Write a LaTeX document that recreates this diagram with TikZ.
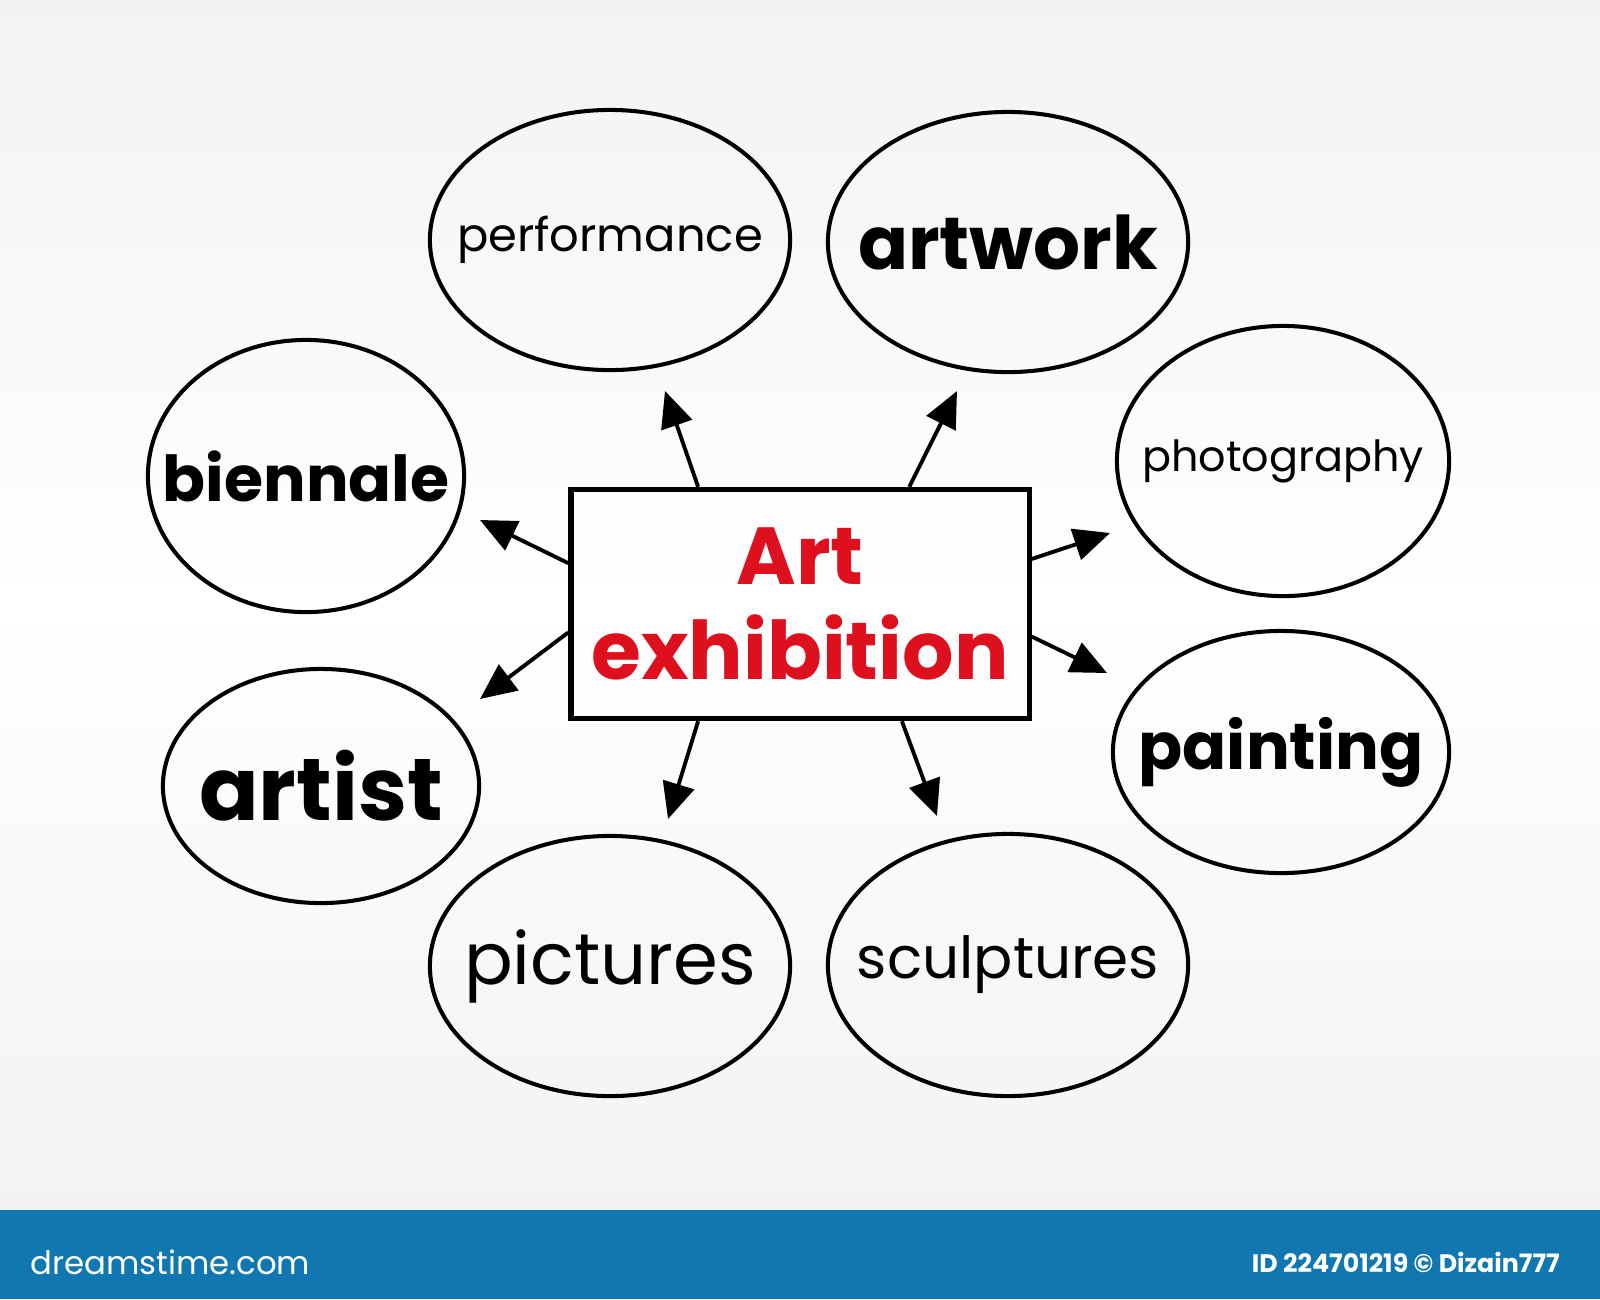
\documentclass[tikz,border=0pt]{standalone}
\usepackage{fontspec}
\setmainfont{Poppins}
\usetikzlibrary{arrows.meta,shapes.geometric}
\definecolor{artred}{RGB}{222,16,30}
\definecolor{barblue}{RGB}{17,119,176}
\tikzset{
  bubble/.style={draw, line width=1.15pt, ellipse, inner sep=0pt},
  topic/.style={font=\fontsize{#1}{#1}\selectfont},
  strong/.style={font=\fontsize{#1}{#1}\selectfont\bfseries},
  spoke/.style={line width=1.1pt, -{Triangle[length=3.6mm,width=3.2mm]}},
}
\begin{document}
\begin{tikzpicture}[x=0.01cm, y=-0.01cm]
  \useasboundingbox (0,0) rectangle (1600,1299);
  %%%%% BACKGROUND %%%%%
  \shade[top color=black!5, bottom color=black!5, middle color=white] (0,0) rectangle (1600,1210);
  \fill[barblue] (0,1210) rectangle (1600,1299);
  \node[text=white, anchor=west, topic=9.2] (site) at (18,1262) {dreamstime.com};
  \node[text=white, anchor=east, strong=7.2] (credit) at (1572,1262) {ID 224701219 © Dizain777};

  %%%%% CENTRE %%%%%
  \node[draw, line width=1.5pt, minimum width=4.58cm, minimum height=2.29cm, text=artred,
        align=center, font=\fontsize{23}{27}\selectfont\bfseries] (art) at (800,604) {Art\\exhibition};

  %%%%% TOPICS %%%%%
  \node[bubble, minimum width=3.6cm, minimum height=2.6cm,
        label={[topic=13.2]center:performance}] (perf) at (610,240) {};
  \node[bubble, minimum width=3.6cm, minimum height=2.6cm,
        label={[strong=21]center:artwork}] (work) at (1008,242) {};
  \node[bubble, minimum width=3.32cm, minimum height=2.7cm,
        label={[topic=12.2]center:photography}] (photo) at (1283,461) {};
  \node[bubble, minimum width=3.36cm, minimum height=2.42cm,
        label={[strong=18.5]center:painting}] (paint) at (1281,752) {};
  \node[bubble, minimum width=3.6cm, minimum height=2.62cm,
        label={[topic=16.5]center:sculptures}] (sculpt) at (1008,965) {};
  \node[bubble, minimum width=3.6cm, minimum height=2.6cm,
        label={[topic=20.5]center:pictures}] (pict) at (610,966) {};
  \node[bubble, minimum width=3.16cm, minimum height=2.34cm,
        label={[strong=25]center:artist}] (artist) at (321,786) {};
  \node[bubble, minimum width=3.16cm, minimum height=2.72cm,
        label={[strong=18]center:biennale}] (bien) at (306,476) {};

  %%%%% ARROWS %%%%%
  \coordinate (perf-tip) at (665,391);
  \coordinate (work-tip) at (957,391);
  \coordinate (photo-tip) at (1110,533);
  \coordinate (paint-tip) at (1107,673);
  \coordinate (sculpt-tip) at (937,816);
  \coordinate (pict-tip) at (668,819);
  \coordinate (artist-tip) at (480,699);
  \coordinate (bien-tip) at (480,520);

  \draw[spoke] (art.131) -- (perf-tip);
  \draw[spoke] (art.47) -- (work-tip);
  \draw[spoke] (art.11) -- (photo-tip);
  \draw[spoke] (art.352) -- (paint-tip);
  \draw[spoke] (art.311) -- (sculpt-tip);
  \draw[spoke] (art.229) -- (pict-tip);
  \draw[spoke] (art.187) -- (artist-tip);
  \draw[spoke] (art.170) -- (bien-tip);
\end{tikzpicture}
\end{document}
